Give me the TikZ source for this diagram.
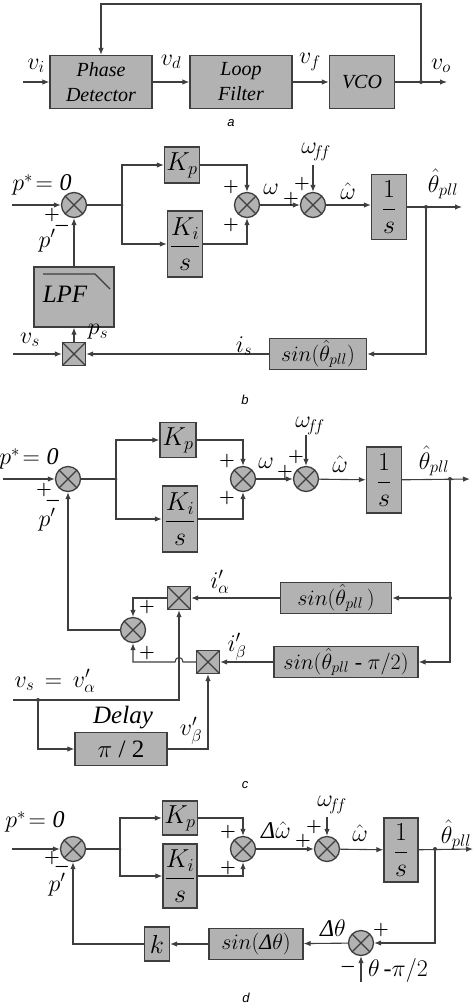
\documentclass[tikz,border=0pt]{standalone}
\usepackage{fix-cm}
\usepackage{fontspec}
\setmainfont{Liberation Serif}
\setsansfont{Liberation Sans}
\usetikzlibrary{arrows.meta,positioning}
\definecolor{boxgray}{RGB}{178,178,178}
\definecolor{wirec}{RGB}{62,62,62}

\begin{document}
\begin{tikzpicture}[x=1pt,y=-1pt,
        box/.style={draw=wirec, fill=boxgray, line width=1.3pt, inner sep=0pt, align=center,
                    font=\fontsize{20}{25}\selectfont\itshape},
        kbox/.style={box, font=\fontsize{26}{28}\selectfont},
        sinbox/.style={box, font=\fontsize{22}{24}\selectfont\itshape},
        xcross/.style={path picture={\draw[wirec, line width=1.1pt]
                    (path picture bounding box.north west) -- (path picture bounding box.south east)
                    (path picture bounding box.north east) -- (path picture bounding box.south west);}},
        sumcirc/.style={circle, draw=wirec, fill=boxgray, line width=1.3pt, minimum size=25pt, inner sep=0pt, xcross},
        multbox/.style={rectangle, draw=wirec, fill=boxgray, line width=1.3pt, minimum size=23pt, inner sep=0pt, xcross},
        arrow/.style={-{Latex[length=7pt,width=5.5pt]}, draw=wirec, line width=1.1pt},
        link/.style={draw=wirec, line width=1.1pt},
        tap/.style={circle, fill=wirec, inner sep=0pt, minimum size=4pt},
        lbl/.style={inner sep=0pt, font=\fontsize{24}{26}\selectfont},
        sgn/.style={inner sep=0pt, font=\fontsize{18}{18}\selectfont\boldmath},
        tag/.style={inner sep=0pt, font=\sffamily\itshape\fontsize{13}{14}\selectfont}
        ]
        \useasboundingbox (0,0) rectangle (474,1005);

        % --- a: basic PLL ---
        \node[box, minimum width=102pt, minimum height=53pt] (pd)  at (101,82) {Phase\\Detector};
        \node[box, minimum width=102pt, minimum height=53pt] (lf)  at (241,82) {Loop\\Filter};
        \node[box, minimum width=65pt,  minimum height=53pt] (vco) at (362,82) {VCO};
        \coordinate (ain) at (23,82);
        \coordinate (aout) at (447,82);
        \coordinate (atop) at (101,4);
        \node[tap] (atap) at (421,82) {};

        \draw[arrow] (ain) -- (pd);
        \draw[arrow] (pd) -- (lf);
        \draw[arrow] (lf) -- (vco);
        \draw[arrow] (vco) -- (aout);
        \draw[arrow] (atap) |- (atop) -- (pd);

        \node[lbl] (vi) at (36,66) {$v_i$};
        \node[lbl] (vd) at (171,62) {$v_d$};
        \node[lbl] (vf) at (310,62) {$v_f$};
        \node[lbl] (vo) at (441,66) {$v_o$};
        \node[tag] (capa) at (231,123) {a};

        % --- b: single-phase power PLL ---
        \node[sumcirc] (bs1) at (74,205) {};
        \node[kbox, minimum width=35pt, minimum height=36pt] (bkp) at (182,165) {$K_p$};
        \node[kbox, minimum width=35pt, minimum height=66pt] (bki) at (185,244) {$\displaystyle\frac{K_i}{s}$};
        \node[sumcirc] (bs2) at (247,205) {};
        \node[sumcirc] (bs3) at (313,205) {};
        \node[kbox, minimum width=35pt, minimum height=65pt] (bint) at (389,207) {$\displaystyle\frac{1}{s}$};
        \node[sinbox, minimum width=97pt, minimum height=31pt] (bsin) at (318,354) {$sin(\hat{\theta}_{pll})$};
        \node[multbox] (bmul) at (74,354) {};
        \node[box, minimum width=80pt, minimum height=60pt] (blpf) at (74,297) {};
        \node[inner sep=0pt, font=\fontsize{25}{26}\selectfont\itshape] (blpft) at (65,294) {LPF};
        \draw[link] (43,274) -- (95,274) -- (110,289);
        \coordinate (bin) at (12,205);
        \coordinate (bbr) at (122,205);
        \coordinate (bwff) at (313,165);
        \coordinate (bout) at (462,207);
        \coordinate (bvs) at (13,354);
        \node[tap] (btap) at (426,207) {};
        \node[tap, minimum size=3pt] (bdot) at (bbr) {};

        \draw[arrow] (bin) -- (bs1);
        \draw[link] (bs1) -- (bbr);
        \draw[arrow] (bbr) |- (bkp);
        \draw[arrow] (bbr) |- (bki);
        \draw[arrow] (bkp) -| (bs2);
        \draw[arrow] (bki) -| (bs2);
        \draw[arrow] (bs2) -- (bs3);
        \draw[arrow] (bwff) -- (bs3);
        \draw[arrow] (bs3) -- (bint.west |- bs3);
        \draw[arrow] (bint.east |- btap) -- (bout);
        \draw[arrow] (btap) |- (bsin);
        \draw[arrow] (bsin) -- (bmul);
        \draw[arrow] (bvs) -- (bmul);
        \draw[arrow] (bmul) -- (blpf);
        \draw[arrow] (blpf) -- (bs1);

        \node[lbl] (bpref) at (42,185) {$p^{*}\!=\mathit{0}$};
        \node[sgn] (bp1) at (52,215) {$+$};
        \node[sgn] (bm1) at (62,226) {$-$};
        \node[lbl] (bpp) at (47,241) {$p'$};
        \node[sgn] (bp2) at (231,187) {$+$};
        \node[sgn] (bp3) at (231,225) {$+$};
        \node[lbl] (bw) at (271,189) {$\omega$};
        \node[sgn] (bp4) at (291,199) {$+$};
        \node[lbl] (bwffl) at (316,152) {$\omega_{\!f\!f}$};
        \node[sgn] (bp5) at (302,184) {$+$};
        \node[lbl] (bwh) at (348,191) {$\hat{\omega}$};
        \node[lbl] (bth) at (443,184) {$\hat{\theta}_{pll}$};
        \node[lbl] (bis) at (244,346) {$i_s$};
        \node[lbl] (bvsl) at (30,340) {$v_s$};
        \node[lbl] (bps) at (98,332) {$p_s$};
        \node[tag] (capb) at (245,400) {b};

        % --- c: quadrature power PLL ---
        \node[sumcirc] (cs1) at (68,479) {};
        \node[kbox, minimum width=36pt, minimum height=35pt] (ckp) at (178,440) {$K_p$};
        \node[kbox, minimum width=35pt, minimum height=66pt] (cki) at (180,519) {$\displaystyle\frac{K_i}{s}$};
        \node[sumcirc] (cs2) at (243,479) {};
        \node[sumcirc] (cs3) at (306,479) {};
        \node[kbox, minimum width=35pt, minimum height=66pt] (cint) at (384,480) {$\displaystyle\frac{1}{s}$};
        \node[sinbox, minimum width=111pt, minimum height=31pt] (csin1) at (336,598) {$sin(\hat{\theta}_{pll}\,)$};
        \node[sinbox, minimum width=144pt, minimum height=31pt] (csin2) at (346,662) {$sin(\hat{\theta}_{pll}$ - $\pi/2)$};
        \node[multbox] (cm1) at (179,598) {};
        \node[multbox] (cm2) at (208,662) {};
        \node[sumcirc] (cs4) at (133,630) {};
        \node[box, minimum width=92pt, minimum height=33pt, font=\fontsize{25}{26}\selectfont] (cdel) at (121,749) {$\pi$ / 2};
        \coordinate (cin) at (3,479);
        \coordinate (cbr) at (116,479);
        \coordinate (cwff) at (306,435);
        \coordinate (cout) at (470,479);
        \coordinate (cvs) at (13,700);
        \coordinate (chopr) at (183,662);
        \coordinate (chopl) at (175,662);
        \node[tap] (ctap) at (450,479) {};
        \node[tap] (ctap2) at (450,598) {};
        \node[tap, minimum size=3pt] (cdot) at (cbr) {};
        \node[tap] (cvd) at (38,700) {};

        \draw[arrow] (cin) -- (cs1);
        \draw[link] (cs1) -- (cbr);
        \draw[arrow] (cbr) |- (ckp);
        \draw[arrow] (cbr) |- (cki);
        \draw[arrow] (ckp) -| (cs2);
        \draw[arrow] (cki) -| (cs2);
        \draw[arrow] (cs2) -- (cs3);
        \draw[arrow] (cwff) -- (cs3);
        \draw[arrow] (cs3) -- (cint);
        \draw[arrow] (cint) -- (cout);
        \draw[arrow] (ctap) |- (csin2);
        \draw[arrow] (ctap2) -- (csin1);
        \draw[arrow] (csin1) -- (cm1);
        \draw[arrow] (csin2) -- (cm2);
        \draw[arrow] (cm1) -| (cs4);
        \draw[arrow] (cm2) -- (chopr) .. controls (183,656) and (175,656) .. (chopl) -| (cs4);
        \draw[arrow] (cs4) -| (cs1);
        \draw[arrow] (cvs) -| (cm1);
        \draw[arrow] (cvd) |- (cdel);
        \draw[arrow] (cdel) -| (cm2);

        \node[lbl] (cpref) at (29,459) {$p^{*}\!=\mathit{0}$};
        \node[sgn] (cp1) at (44,490) {$+$};
        \node[sgn] (cm1s) at (53,501) {$-$};
        \node[lbl] (cpp) at (47,520) {$p'$};
        \node[sgn] (cp2) at (227,461) {$+$};
        \node[sgn] (cp3) at (227,498) {$+$};
        \node[lbl] (cw) at (266,463) {$\omega$};
        \node[sgn] (cp4) at (285,472) {$+$};
        \node[lbl] (cwffl) at (310,426) {$\omega_{\!f\!f}$};
        \node[sgn] (cp5) at (296,457) {$+$};
        \node[lbl] (cwh) at (340,464) {$\hat{\omega}$};
        \node[lbl] (cth) at (434,461) {$\hat{\theta}_{pll}$};
        \node[lbl] (cia) at (220,582) {$i'_{\alpha}$};
        \node[lbl] (cib) at (237,647) {$i'_{\beta}$};
        \node[sgn] (cp6) at (147,607) {$+$};
        \node[sgn] (cp7) at (147,653) {$+$};
        \node[lbl] (cvsl) at (55,681) {$v_s\,=\,v'_{\alpha}$};
        \node[inner sep=0pt, font=\fontsize{25}{26}\selectfont\itshape] (cdell) at (123,718) {Delay};
        \node[lbl] (cvb) at (191,731) {$v'_{\beta}$};
        \node[tag] (capc) at (245,785) {c};

        % --- d: PLL with phase error feedback ---
        \node[sumcirc] (ds1) at (73,849) {};
        \node[kbox, minimum width=35pt, minimum height=34pt] (dkp) at (180,818) {$K_p$};
        \node[kbox, minimum width=34pt, minimum height=64pt] (dki) at (180,876) {$\displaystyle\frac{K_i}{s}$};
        \node[sumcirc] (ds2) at (243,849) {};
        \node[sumcirc] (ds3) at (327,849) {};
        \node[kbox, minimum width=34pt, minimum height=64pt] (dint) at (401,850) {$\displaystyle\frac{1}{s}$};
        \node[sumcirc] (ds4) at (361,943) {};
        \node[sinbox, minimum width=94pt, minimum height=31pt] (dsin) at (256,944) {$sin(${\itshape Δ}$\theta)$};
        \node[kbox, minimum width=25pt, minimum height=34pt] (dk) at (157,944) {$k$};
        \coordinate (din) at (12,849);
        \coordinate (dbr) at (120,849);
        \coordinate (dwff) at (327,817);
        \coordinate (dout) at (473,849);
        \coordinate (dth) at (361,982);
        \node[tap] (dtap) at (435,849) {};
        \node[tap, minimum size=3pt] (ddot) at (dbr) {};

        \draw[arrow] (din) -- (ds1);
        \draw[link] (ds1) -- (dbr);
        \draw[arrow] (dbr) |- (dkp);
        \draw[arrow] (dbr) |- (dki);
        \draw[arrow] (dkp) -| (ds2);
        \draw[arrow] (dki) -| (ds2);
        \draw[arrow] (ds2) -- (ds3);
        \draw[arrow] (dwff) -- (ds3);
        \draw[arrow] (ds3) -- (dint);
        \draw[arrow] (dint) -- (dout);
        \draw[arrow] (dtap) |- (ds4);
        \draw[arrow] (dth) -- (ds4);
        \draw[arrow] (ds4) -- (dsin);
        \draw[arrow] (dsin) -- (dk);
        \draw[arrow] (dk) -| (ds1);

        \node[lbl] (dpref) at (35,822) {$p^{*}\!=\mathit{0}$};
        \node[sgn] (dp1) at (52,858) {$+$};
        \node[sgn] (dm1) at (62,867) {$-$};
        \node[lbl] (dpp) at (57,885) {$p'$};
        \node[sgn] (dp2) at (228,832) {$+$};
        \node[sgn] (dp3) at (228,868) {$+$};
        \node[lbl] (ddw) at (276,830) {{\itshape Δ}$\hat{\omega}$};
        \node[sgn] (dp4) at (303,841) {$+$};
        \node[lbl] (dwffl) at (332,805) {$\omega_{\!f\!f}$};
        \node[sgn] (dp5) at (314,827) {$+$};
        \node[lbl] (dwh) at (360,833) {$\hat{\omega}$};
        \node[lbl] (dthl) at (456,835) {$\hat{\theta}_{pll}$};
        \node[lbl] (ddth) at (333,928) {{\itshape Δ}$\theta$};
        \node[sgn] (dp6) at (381,930) {$+$};
        \node[sgn] (dm2) at (348,967) {$-$};
        \node[lbl] (dthin) at (398,970) {$\theta$\,-$\pi/2$};
        \node[tag] (capd) at (246,998) {d};
    \end{tikzpicture}
\end{document}
